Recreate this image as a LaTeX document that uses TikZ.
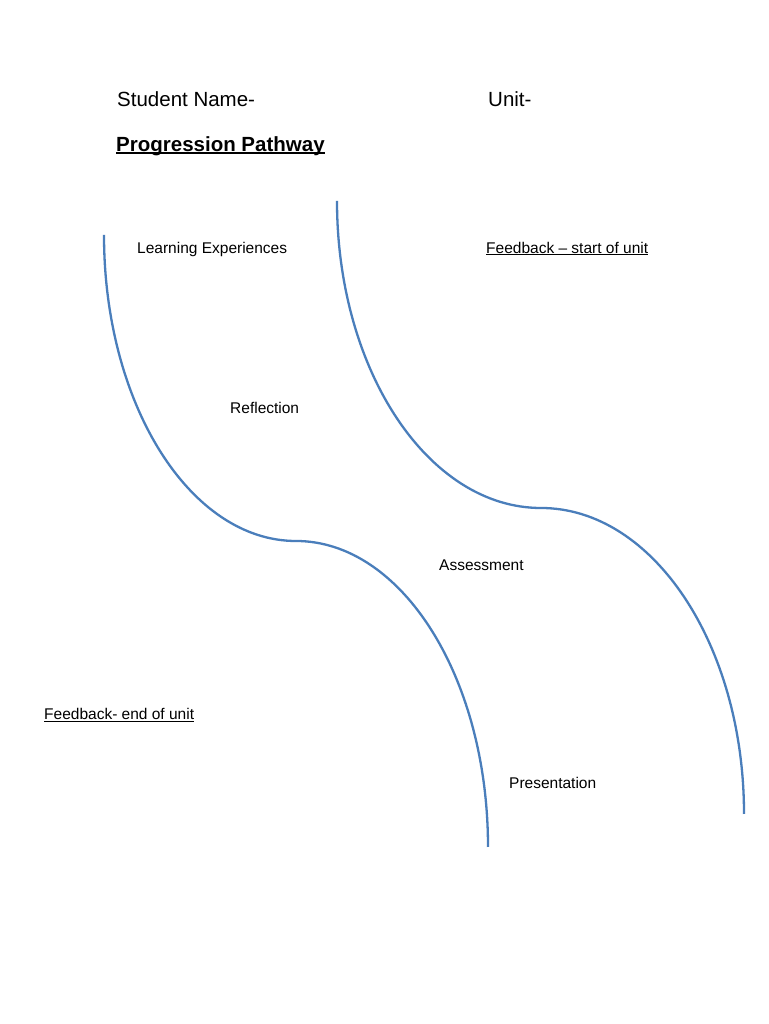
\documentclass[tikz,border=0pt]{standalone}
\usepackage{fontspec}
\setmainfont{Liberation Sans}
\definecolor{pathblue}{RGB}{74,126,187}
\newcommand{\ulword}[1]{\setbox0\hbox{#1}\rlap{\rule[-0.11em]{\wd0}{0.075em}}\box0}
\newcommand{\ulbold}[1]{\setbox0\hbox{#1}\rlap{\rule[-0.13em]{\wd0}{0.1em}}\box0}
\begin{document}
\begin{tikzpicture}[x=1pt,y=1pt,
  big/.style={anchor=base west,inner sep=0pt,font=\fontsize{20.5}{24}\selectfont},
  small/.style={anchor=base west,inner sep=0pt,font=\fontsize{15.5}{18}\selectfont},
  pathline/.style={draw=pathblue,line width=2.3pt}]
\useasboundingbox[fill=white] (0,0) rectangle (768,1024);
\node[big] (name) at (117,917.5) {Student Name-};
\node[big] (unit) at (488,917.5) {Unit-};
\node[big,font=\fontsize{20.5}{24}\selectfont\bfseries] (title) at (116,872.5) {\ulbold{Progression Pathway}};
\node[small] (learn) at (137,770.5) {Learning Experiences};
\node[small] (fbstart) at (486,770.5) {\ulword{Feedback – start of unit}};
\node[small] (refl) at (230,610.5) {Reflection};
\node[small] (assess) at (439,453.5) {Assessment};
\node[small] (fbend) at (44,304) {\ulword{Feedback- end of unit}};
\node[small] (pres) at (509,235.5) {Presentation};
\coordinate (lstart) at (104,789);
\coordinate (rstart) at (337,823);
\draw[pathline] (lstart) arc[start angle=180,end angle=270,x radius=192pt,y radius=306pt]
  arc[start angle=90,end angle=0,x radius=192pt,y radius=306pt];
\draw[pathline] (rstart) arc[start angle=180,end angle=270,x radius=204pt,y radius=307pt]
  arc[start angle=90,end angle=0,x radius=203pt,y radius=306pt];
\end{tikzpicture}
\end{document}
